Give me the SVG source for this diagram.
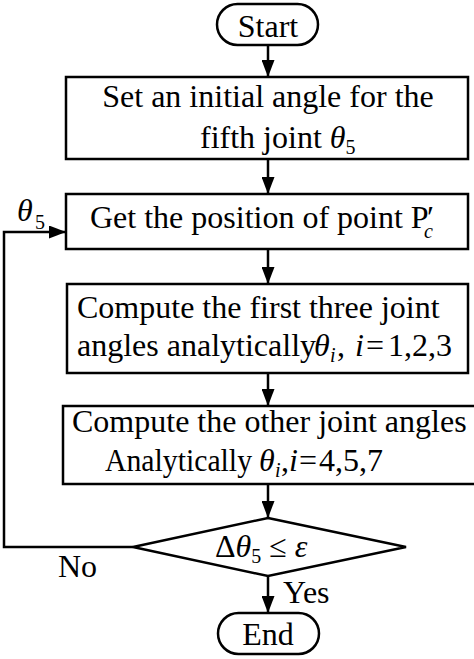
<svg xmlns="http://www.w3.org/2000/svg" width="474" height="659" viewBox="0 0 474 659">
<style>
.box{fill:#fff;stroke:#000;stroke-width:2.5}
.t{font-family:"Liberation Serif","Times New Roman",serif;font-size:32px;fill:#000}
.it{font-style:italic}
.sub{font-size:20px}
.c{stroke:#000;stroke-width:2.5;fill:none}
</style>
<defs>
<marker id="ah" markerUnits="userSpaceOnUse" markerWidth="17" markerHeight="13" refX="17" refY="6.5" orient="auto">
<path d="M0,0 L17,6.5 L0,13 z" fill="#000"/>
</marker>
</defs>
<rect width="474" height="659" fill="#fff"/>
<g id="connectors">
<line class="c" x1="268" y1="45" x2="268" y2="77" marker-end="url(#ah)"/>
<line class="c" x1="268" y1="159" x2="268" y2="194" marker-end="url(#ah)"/>
<line class="c" x1="268" y1="249" x2="268" y2="284" marker-end="url(#ah)"/>
<line class="c" x1="268" y1="373" x2="268" y2="406" marker-end="url(#ah)"/>
<line class="c" x1="268" y1="484" x2="268" y2="518" marker-end="url(#ah)"/>
<line class="c" x1="268" y1="576" x2="268" y2="613" marker-end="url(#ah)"/>
<polyline class="c" points="133,547 4,547 4,232 66,232" marker-end="url(#ah)"/>
<text class="t" x="17" y="221"><tspan class="it">θ</tspan><tspan class="sub" x="35" y="229">5</tspan></text>
<text class="t" x="58" y="577">No</text>
<text class="t" x="283" y="603">Yes</text>
</g>
<g id="start">
<rect class="box" x="217" y="4" width="101" height="41" rx="20.5"/>
<text class="t" x="268" y="37" text-anchor="middle">Start</text>
</g>
<g id="init">
<rect class="box" x="66" y="77" width="402" height="82"/>
<text class="t" x="268" y="107" text-anchor="middle">Set an initial angle for the</text>
<text class="t" x="200" y="148">fifth joint <tspan class="it">θ</tspan><tspan class="sub" dy="6">5</tspan></text>
</g>
<g id="position">
<rect class="box" x="66" y="194" width="402" height="55"/>
<text class="t" x="90" y="228">Get the position of point P<tspan x="427" y="228">′</tspan><tspan class="it sub" x="424" y="238">c</tspan></text>
</g>
<g id="first3">
<rect class="box" x="67" y="284" width="401" height="89"/>
<text class="t" x="77" y="318">Compute the first three joint</text>
<text class="t" x="77" y="356">angles analytically<tspan class="it" x="314">θ</tspan><tspan class="it sub" x="330" y="362">i</tspan><tspan x="337" y="356">,</tspan><tspan class="it" x="355">i</tspan><tspan x="366">=</tspan><tspan x="388">1,2,3</tspan></text>
</g>
<g id="others">
<rect class="box" x="63" y="406" width="420" height="78"/>
<text class="t" x="72" y="432">Compute the other joint angles</text>
<text class="t" x="105" y="471" textLength="147" lengthAdjust="spacingAndGlyphs">Analytically</text>
<text class="t" x="259" y="471"><tspan class="it">θ</tspan><tspan class="it sub" x="275" y="477">i</tspan><tspan x="281" y="471">,</tspan><tspan class="it" x="289">i</tspan><tspan x="299">=</tspan><tspan x="319">4,5,7</tspan></text>
</g>
<g id="check">
<polygon class="box" points="268,518 406,547 268,576 133,547"/>
<text class="t" x="215" y="557">Δ<tspan class="it">θ</tspan><tspan class="sub" dy="6">5</tspan><tspan dy="-6"> ≤ </tspan><tspan class="it">ε</tspan></text>
</g>
<g id="end">
<rect class="box" x="218" y="613" width="101" height="41" rx="20.5"/>
<text class="t" x="268" y="645" text-anchor="middle">End</text>
</g>
</svg>
